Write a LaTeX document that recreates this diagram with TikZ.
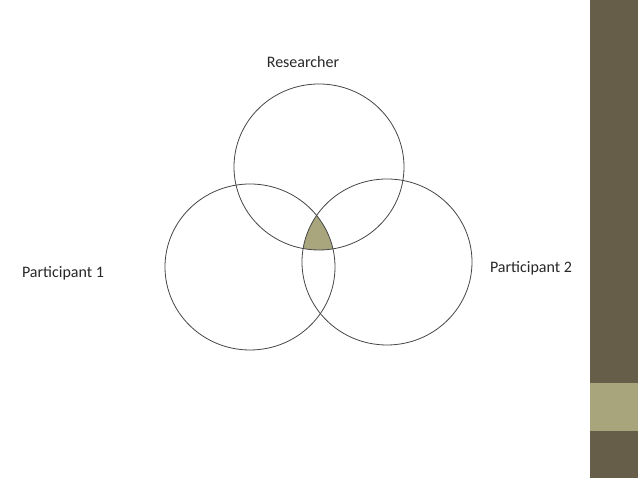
\documentclass[tikz,border=0pt]{standalone}
\usepackage{fontspec}
\setmainfont{Carlito}
\pgfdeclareradialshading{vignette}{\pgfpoint{0bp}{0bp}}{%
  color(0bp)=(white); color(38bp)=(white); color(50bp)=(white!92!black); color(72bp)=(white!78!black)}
\tikzset{
  ring/.style={draw=ringColor,line width=0.8pt},
  label/.style={inner sep=0pt,outer sep=0pt,font=\fontsize{16}{19}\selectfont,text=textColor}
}
\begin{document}
\begin{tikzpicture}[x=1pt,y=1pt]
\definecolor{ringColor}{RGB}{70,70,70}
\definecolor{textColor}{RGB}{40,40,40}
\definecolor{barColor}{RGB}{102,94,72}
\definecolor{tabColor}{RGB}{168,165,124}
\definecolor{fillColor}{RGB}{169,166,126}
\path[use as bounding box] (0,0) rectangle (638,478);

% background
\path[shading=vignette] (0,0) rectangle (590,478);
\path[fill=barColor] (590,0) rectangle (638,478);
\path[fill=tabColor] (590,47) rectangle (638,95);

% common part of all three circles
\begin{scope}
\path[clip] (319,311) ellipse (85 and 83);
\path[clip] (250,211) ellipse (85 and 83);
\path[fill=fillColor] (387,216) ellipse (85 and 83);
\end{scope}

\path[ring] (319,311) ellipse (85 and 83);
\path[ring] (250,211) ellipse (85 and 83);
\path[ring] (387,216) ellipse (85 and 83);

\node[label] (researcher) at (303,416) {Researcher};
\node[label,anchor=west] (part1) at (22,205) {Participant 1};
\node[label,anchor=west] (part2) at (490,210) {Participant 2};
\end{tikzpicture}
\end{document}
